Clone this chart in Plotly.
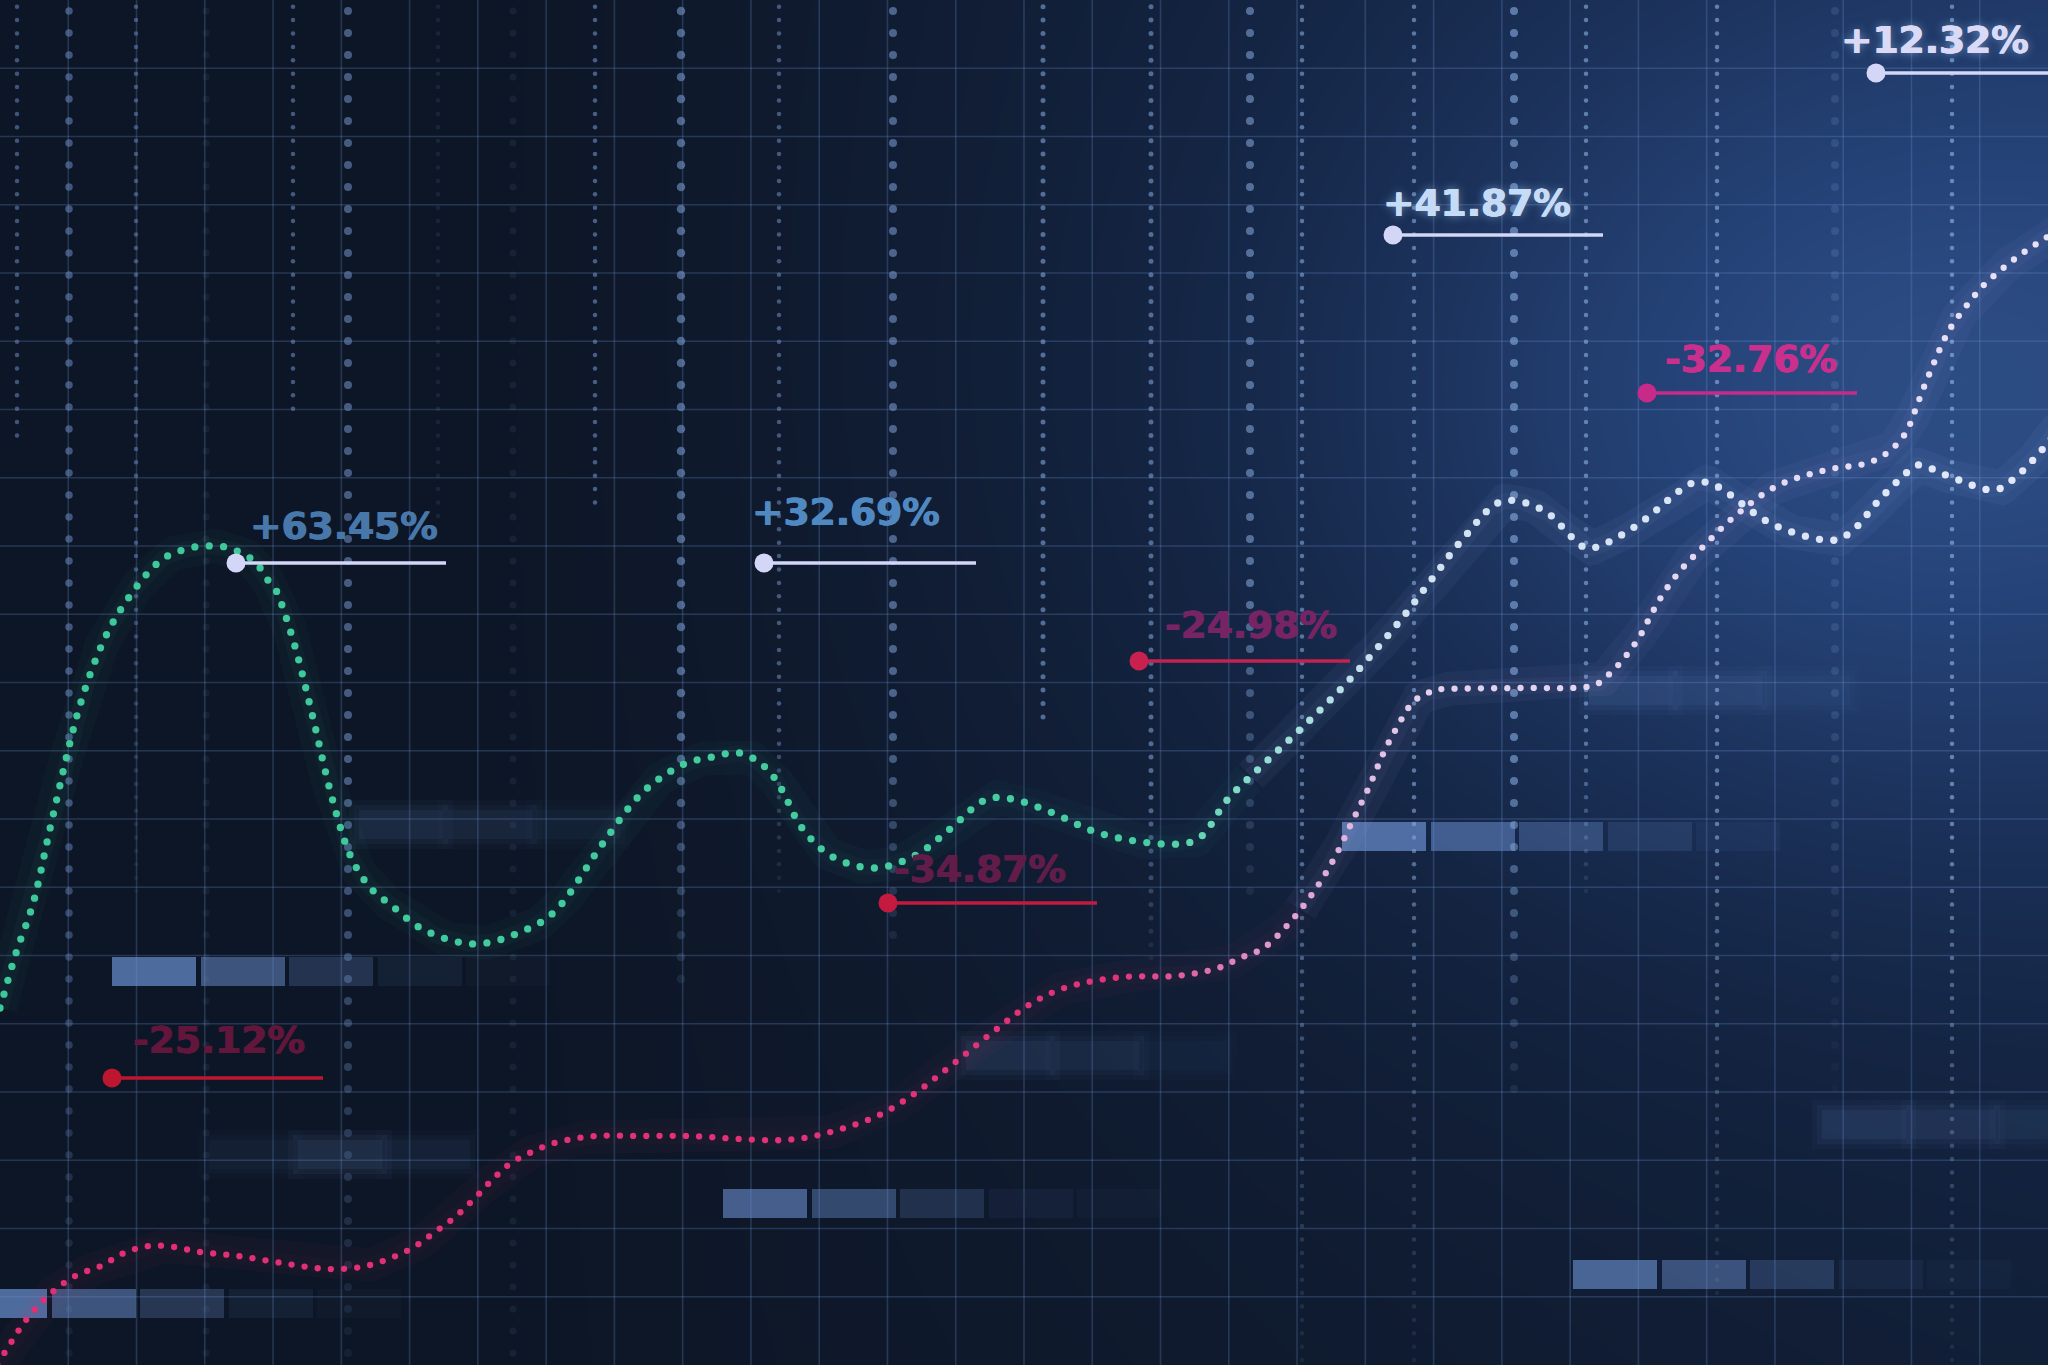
import numpy as np
import plotly.graph_objects as go

W, H = 2048, 1365
NCOL, NROW = 30, 20

# ---------------- data ----------------
# teal curve (turns white on the right), pixel-space knots
green_x = [0, 16, 34, 52, 78, 104, 132, 160, 186, 207, 229, 254, 271, 279, 296, 313, 330, 348, 368, 391, 426, 475,
           523, 559, 601, 640, 680, 712, 740, 765, 782, 802, 833, 875, 916, 950, 983, 1012, 1053, 1093, 1135, 1178,
           1203, 1228, 1269, 1311, 1352, 1399, 1435, 1462, 1500, 1543, 1574, 1593, 1636, 1682, 1701, 1722, 1770,
           1824, 1851, 1880, 1911, 1924, 1951, 1992, 2017, 2047, 2060]
green_y = [1008, 953, 900, 820, 712, 640, 593, 561, 549, 546, 548, 561, 585, 597, 650, 718, 790, 850, 885, 905, 931, 944,
           931, 907, 846, 795, 766, 757, 753, 767, 790, 828, 857, 868, 855, 829, 801, 799, 813, 831, 841, 844,
           835, 799, 759, 719, 677, 622, 575, 540, 502, 510, 539, 548, 526, 489, 482, 489, 523,
           540, 532, 499, 469, 466, 477, 490, 476, 444, 425]

# pink curve (turns lavender/white on the right)
pink_x = [-10, 7, 21, 37, 56, 77, 101, 124, 149, 174, 200, 238, 276, 315, 341, 366, 391, 414, 435, 455, 474, 492, 511,
          534, 558, 596, 640, 690, 740, 784, 823, 875, 914, 953, 993, 1032, 1071, 1123, 1175, 1215, 1240, 1265, 1292,
          1315, 1335, 1352, 1369, 1384, 1396, 1409, 1418, 1430, 1443, 1520, 1586, 1607, 1625, 1640, 1652, 1665, 1680,
          1698, 1735, 1777, 1826, 1864, 1887, 1905, 1915, 1924, 1944, 1958, 1982, 2001, 2020, 2044, 2060]
pink_y = [1375, 1349, 1327, 1307, 1289, 1275, 1266, 1253, 1246, 1247, 1252, 1256, 1262, 1268, 1269, 1266, 1258, 1247,
          1232, 1217, 1199, 1180, 1163, 1151, 1142, 1136, 1136, 1136, 1139, 1140, 1134, 1117, 1094, 1064, 1032, 1003,
          986, 977, 976, 969, 958, 947, 920, 890, 857, 822, 787, 752, 729, 707, 698, 692, 689, 688, 687, 676, 657,
          636, 613, 591, 571, 552, 516, 486, 470, 464, 453, 434, 411, 387, 340, 317, 287, 270, 255, 239, 230]

# percentage callouts
label_text = ["+63.45%", "+32.69%", "+41.87%", "+12.32%", "-32.76%", "-24.98%", "-34.87%", "-25.12%"]
label_left = [248, 750, 1381, 1839, 1663, 1163, 892, 131]
label_mid = [526, 512, 203, 40, 359, 625, 869, 1040]
label_color = ["#4878aa", "#5089c2", "#c6dcf6", "#dadaf6", "#c92f8d", "#772464", "#621c4a", "#62163b"]
label_glow = [0, 0, 1, 1, 0, 0, 0, 0]
pin_x = [236, 764, 1393, 1876, 1647, 1139, 888, 112]
pin_y = [563, 563, 235, 73, 393, 661, 903, 1078]
pin_end = [446, 976, 1603, 2060, 1857, 1350, 1097, 323]
pin_color = ["#d4d6f8", "#d4d6f8", "#d4d6f8", "#d4d6f8", "#c82a8a", "#c8204f", "#c51a40", "#bd1630"]

# segmented bars (sharp)
bar_x0 = [112, -37, 723, 1342, 1573]
bar_y0 = [957, 1289, 1189, 822, 1260]
bar_alpha = [[0.62, 0.45, 0.22, 0.08, 0.03],
             [0.62, 0.45, 0.24, 0.08, 0.03],
             [0.52, 0.36, 0.18, 0.06, 0.03],
             [0.60, 0.46, 0.30, 0.14, 0.06],
             [0.55, 0.40, 0.22, 0.07, 0.03]]
# segmented bars (out of focus)
blur_x0 = [359, 209, 966, 1589, 1822]
blur_y0 = [810, 1140, 1041, 676, 1110]
blur_alpha = [[0.10, 0.08, 0.05],
              [0.05, 0.11, 0.06],
              [0.10, 0.08, 0.04],
              [0.11, 0.09, 0.05],
              [0.11, 0.09, 0.07]]

# vertical dotted guide lines
vline_x = [17, 69, 136, 206, 293, 348, 438, 513, 595, 681, 779, 893, 1043, 1151, 1250, 1302, 1414, 1514, 1586, 1717, 1835, 1952]
vline_size = [4.5, 7.5, 4.5, 7, 4.5, 8, 4.5, 7, 4.5, 8.5, 4.5, 8, 5, 5, 8, 4.5, 4.5, 8, 4.5, 4.5, 8, 4.5]
vline_step = [13.4, 22, 13.4, 22, 13.4, 22, 13.4, 22, 13.4, 22, 13.4, 22, 13.4, 13.4, 22, 13.4, 13.4, 22, 13.4, 13.4, 22, 13.4]
vline_alpha = [0.8, 0.8, 0.75, 0.14, 0.8, 0.8, 0.18, 0.14, 0.8, 0.85, 0.7, 0.8, 0.85, 0.8, 0.8, 0.85, 0.85, 0.85, 0.85, 0.85, 0.22, 0.85]
vline_solid = [436, 760, 560, 1365, 416, 800, 520, 1365, 515, 745, 720, 730, 723, 800, 600, 800, 800, 760, 720, 800, 800, 820]
vline_end = [436, 1365, 900, 1365, 416, 1365, 520, 1365, 515, 1000, 900, 950, 723, 960, 900, 1365, 1365, 1100, 900, 1300, 1100, 1365]

# ---------------- helpers ----------------
def catmull(xs, ys, n=40):
    P = np.column_stack([xs, ys]).astype(float)
    P = np.vstack([2 * P[0] - P[1], P, 2 * P[-1] - P[-2]])
    t = np.linspace(0, 1, n, endpoint=False)[:, None]
    out = []
    for i in range(1, len(P) - 2):
        p0, p1, p2, p3 = P[i - 1], P[i], P[i + 1], P[i + 2]
        out.append(0.5 * (2 * p1 + (-p0 + p2) * t + (2 * p0 - 5 * p1 + 4 * p2 - p3) * t ** 2
                          + (-p0 + 3 * p1 - 3 * p2 + p3) * t ** 3))
    out.append(P[-2][None, :])
    return np.vstack(out)


def resample(pts, step):
    d = np.sqrt((np.diff(pts, axis=0) ** 2).sum(1))
    s = np.concatenate([[0], np.cumsum(d)])
    ss = np.arange(0, s[-1], step)
    return np.interp(ss, s, pts[:, 0]), np.interp(ss, s, pts[:, 1])


def ramp(xv, stops, cols):
    cols = np.array(cols, float)
    r = np.interp(xv, stops, cols[:, 0])
    g = np.interp(xv, stops, cols[:, 1])
    b = np.interp(xv, stops, cols[:, 2])
    return [f"rgb({int(a)},{int(bb)},{int(c)})" for a, bb, c in zip(r, g, b)]


fig = go.Figure()

# background
xg = np.linspace(0, W, 70)
yg = np.linspace(0, H, 48)
X, Y = np.meshgrid(xg, yg)
glow = np.exp(-(((X - 1880) / 650) ** 2 + ((Y - 420) / 480) ** 2))
lin = np.clip((X - 500) / 1548, 0, 1) * (1 - 0.55 * Y / H)
Z = np.clip(0.62 * glow + 0.42 * lin, 0, 1)
fig.add_trace(go.Heatmap(x=xg, y=yg, z=Z, zmin=0, zmax=1, zsmooth="best", showscale=False, hoverinfo="skip",
                         colorscale=[[0, "#0d1626"], [0.3, "#132340"], [0.6, "#1c335d"], [0.85, "#26447a"], [1, "#2f5189"]]))

# grid
gx, gy = [], []
for k in range(1, NCOL):
    xv = k * W / NCOL
    gx += [xv, xv, None]
    gy += [0, H, None]
for k in range(1, NROW):
    yv = k * H / NROW
    gx += [0, W, None]
    gy += [yv, yv, None]
fig.add_trace(go.Scatter(x=gx, y=gy, mode="lines", line=dict(color="rgba(110,150,215,0.25)", width=1.6),
                         hoverinfo="skip", showlegend=False))

# bars
SEG_W, SEG_P, SEG_H = 84, 88.5, 29
bx, by, bb, bw, bc = [], [], [], [], []
for x0, y0, al in zip(blur_x0, blur_y0, blur_alpha):
    for i, a in enumerate(al):
        for grow, fac in [(10, 0.35), (5, 0.5), (0, 0.7)]:
            bb.append(x0 + i * SEG_P - grow)
            bx.append(SEG_W + 2 * grow)
            by.append(y0 + SEG_H / 2)
            bw.append(SEG_H + 2 * grow)
            bc.append(f"rgba(120,160,230,{a * fac:.3f})")
for x0, y0, al in zip(bar_x0, bar_y0, bar_alpha):
    for i, a in enumerate(al):
        bb.append(x0 + i * SEG_P)
        bx.append(SEG_W)
        by.append(y0 + SEG_H / 2)
        bw.append(SEG_H)
        bc.append(f"rgba(120,160,230,{a})")
fig.add_trace(go.Bar(orientation="h", x=bx, y=by, base=bb, width=bw, marker=dict(color=bc, line=dict(width=0)),
                     hoverinfo="skip", showlegend=False))

# vertical dotted lines
vx, vy, vs, vc = [], [], [], []
for x, sz, st, al, so, en in zip(vline_x, vline_size, vline_step, vline_alpha, vline_solid, vline_end):
    ys = np.arange(st * 0.5, en + 0.1, st)
    base = np.array([np.interp(x, [0, W], [105, 150]), np.interp(x, [0, W], [135, 190]), np.interp(x, [0, W], [190, 240])])
    for yv in ys:
        a = al if yv <= so else al * (1 - 0.85 * (yv - so) / max(en - so, 1))
        vx.append(x)
        vy.append(yv)
        vs.append(sz)
        vc.append(f"rgba({int(base[0])},{int(base[1])},{int(base[2])},{a:.3f})")
fig.add_trace(go.Scatter(x=vx, y=vy, mode="markers", marker=dict(size=vs, color=vc, line=dict(width=0)),
                         hoverinfo="skip", showlegend=False))

# curves
gpts = catmull(green_x, green_y)
ppts = catmull(pink_x, pink_y)
for pts, split, c1, c2 in [(gpts, 1250, "rgba(60,200,170,0.035)", "rgba(170,205,250,0.05)"),
                           (ppts, 1300, "rgba(225,50,120,0.03)", "rgba(200,190,245,0.045)")]:
    m = pts[:, 0] <= split
    for wdt in (34, 16):
        fig.add_trace(go.Scatter(x=pts[m, 0], y=pts[m, 1], mode="lines", line=dict(color=c1, width=wdt),
                                 hoverinfo="skip", showlegend=False))
        fig.add_trace(go.Scatter(x=pts[~m, 0], y=pts[~m, 1], mode="lines", line=dict(color=c2, width=wdt),
                                 hoverinfo="skip", showlegend=False))

px_, py_ = resample(ppts, 13.2)
pcol = ramp(px_, [0, 1120, 1260, 1420, 2048],
            [(226, 46, 116), (226, 52, 122), (222, 150, 205), (226, 208, 238), (232, 226, 248)])
fig.add_trace(go.Scatter(x=px_, y=py_, mode="markers", marker=dict(size=6.3, color=pcol, line=dict(width=0)),
                         hoverinfo="skip", showlegend=False))

gx_, gy_ = resample(gpts, 14.4)
gcol = ramp(gx_, [0, 1160, 1270, 1390, 2048],
            [(62, 201, 154), (72, 206, 162), (150, 222, 215), (208, 226, 242), (228, 232, 250)])
fig.add_trace(go.Scatter(x=gx_, y=gy_, mode="markers", marker=dict(size=7.3, color=gcol, line=dict(width=0)),
                         hoverinfo="skip", showlegend=False))

# callout pins
for x0, y0, x1, c in zip(pin_x, pin_y, pin_end, pin_color):
    fig.add_trace(go.Scatter(x=[x0, x1], y=[y0, y0], mode="lines", line=dict(color=c, width=3.5),
                             hoverinfo="skip", showlegend=False))
fig.add_trace(go.Scatter(x=pin_x, y=pin_y, mode="markers", marker=dict(size=19, color=pin_color, line=dict(width=0)),
                         hoverinfo="skip", showlegend=False))

for t, x, y, c, g in zip(label_text, label_left, label_mid, label_color, label_glow):
    sh = f"0.8px 0 0 {c}, -0.4px 0 0 {c}"
    if g:
        sh += ", 0 0 10px rgba(170,210,255,0.55)"
    fig.add_annotation(x=x, y=y, text=t, showarrow=False, xanchor="left", yanchor="middle",
                       font=dict(family="DejaVu Sans", size=37.5, color=c, weight="bold", shadow=sh))

fig.update_layout(
    width=W, height=H, margin=dict(l=0, r=0, t=0, b=0),
    paper_bgcolor="#0d1626", plot_bgcolor="#0d1626",
    xaxis=dict(range=[0, W], visible=False, fixedrange=True),
    yaxis=dict(range=[H, 0], visible=False, fixedrange=True),
    barmode="overlay", showlegend=False, bargap=0,
)
fig.write_html("out.html", config={"displayModeBar": False},
               post_script="document.body.style.margin='0';document.body.style.overflow='hidden';document.body.style.background='#0d1626';")
